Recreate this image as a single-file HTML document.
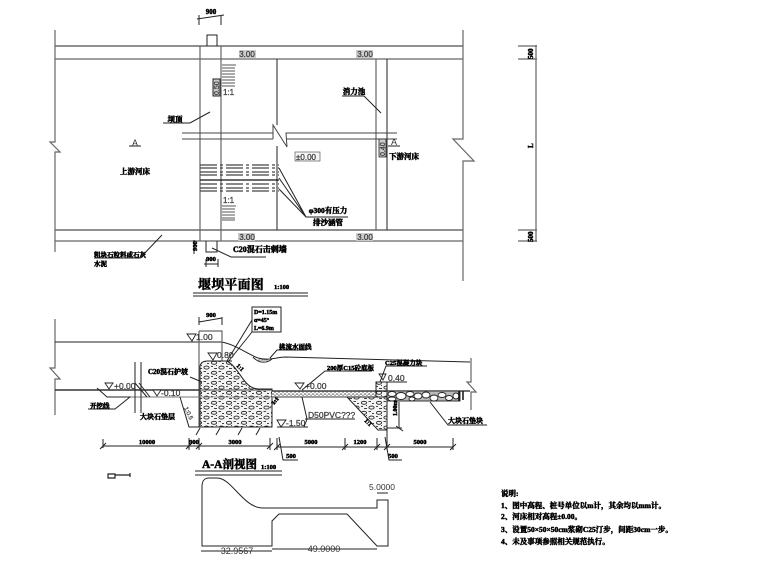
<!DOCTYPE html>
<html><head><meta charset="utf-8"><style>
html,body{margin:0;padding:0;background:#fff}
svg{display:block}
.l{fill:none;stroke:#222;stroke-width:1}
.g{fill:none;stroke:#666;stroke-width:1.2}
.s{font-family:"Liberation Serif","Noto Serif CJK SC",serif;font-weight:bold;fill:#000;stroke:#000;stroke-width:.5}
.n{font-family:"Liberation Sans",sans-serif;fill:#333}
.d{font-family:"Liberation Sans",sans-serif;fill:#444;stroke:#333;stroke-width:.25}
</style></head><body>
<svg width="760" height="567" viewBox="0 0 760 567" xmlns="http://www.w3.org/2000/svg">
<defs>
<pattern id="st" width="15" height="10" patternUnits="userSpaceOnUse">
<rect width="15" height="10" fill="#f4f4f4"/>
<ellipse cx="4" cy="2.8" rx="2.6" ry="1.5" fill="none" stroke="#222" stroke-width=".9"/>
<ellipse cx="11.5" cy="7.6" rx="2.6" ry="1.5" fill="none" stroke="#222" stroke-width=".9"/>
<path d="M8.5 1.5h2.5M12 3.5h2M1 6.5h2M4 8.5h3M6 5.5h1" stroke="#444" stroke-width=".9"/>
</pattern>
<pattern id="dt" width="4" height="3" patternUnits="userSpaceOnUse">
<rect width="4" height="3" fill="#fff"/><circle cx="1" cy="1" r=".8" fill="#444"/><circle cx="3" cy="2.2" r=".7" fill="#666"/>
</pattern>
</defs>

<!-- PLAN -->
<path class="l" d="M55 46H463"/>
<path class="g" d="M55 59H463M55 241H463"/>
<path class="l" d="M55 230H463"/>
<path class="g" d="M55 30V142H50L60 152H55V252"/>
<path class="g" d="M463 30V139H453L474 161H463V281"/>
<path class="g" d="M200 46V241M221 46V241M376 59V230"/>
<path class="l" d="M277 59V125M277 146V230M387 59V230"/>
<path class="l" d="M207 46V35H217V46M206 241V252H217V241"/>
<path fill="none" stroke="#444" d="M182 133H273M182 139H273M273 139V125L287 147L286 133H397M286 139H397" />
<!-- top dim -->
<path class="l" d="M199 25V15M221 25V15M197 19L224 15"/>
<text class="s" x="211" y="14" font-size="7" text-anchor="middle">900</text>
<!-- stairs -->
<path stroke="#555" stroke-width="1" fill="none" d="M222 65H236M222 68H235M222 71H235M222 74H235M222 77H235M222 80H235M222 83H235M222 86H235"/>
<path stroke="#555" stroke-width="1" fill="none" d="M222 206H236M222 209H235M222 212H235M222 215H235M222 218H235M222 220H235"/>
<text class="d" x="223" y="95" font-size="8">1:1</text>
<text class="d" x="223" y="203" font-size="8">1:1</text>
<!-- pipes -->
<g fill="none" stroke="#444" stroke-width="1.2">
<path d="M200 165H279M200 168H279M200 172H279M200 175H279" stroke-dasharray="17 3 3 3"/>
<path d="M200 180H279" stroke="#111"/>
<path d="M200 184H279M200 188H279M200 191H279" stroke-dasharray="17 3 3 3"/>
</g>
<path class="l" d="M279 168L306 217M279 178L306 217M279 189L306 217H348"/>
<text class="s" x="328" y="213" font-size="7.5" text-anchor="middle">φ300有压力</text>
<text class="s" x="328" y="225" font-size="7.5" text-anchor="middle">排沙涵管</text>
<!-- labels -->
<g text-anchor="middle">
<rect x="239" y="50" width="17" height="8" fill="#ccc"/><rect x="356" y="50" width="17" height="8" fill="#ccc"/>
<rect x="238" y="233" width="17" height="8" fill="#ccc"/><rect x="356" y="233" width="17" height="8" fill="#ccc"/>
<text class="d" font-size="8" x="247" y="57">3.00</text><text class="d" font-size="8" x="365" y="57">3.00</text>
<text class="d" font-size="8" x="247" y="240">3.00</text><text class="d" font-size="8" x="365" y="240">3.00</text>
</g>
<rect x="295" y="152" width="25" height="9" fill="#f4f4f4" stroke="#444" stroke-width=".6"/>
<text class="d" x="296" y="160" font-size="8">±0.00</text>
<rect x="213" y="79" width="7" height="17" fill="#ccc" stroke="#222"/>
<text class="d" transform="translate(219,95) rotate(-90)" font-size="7">0.50</text>
<rect x="379" y="139" width="7" height="18" fill="#ccc" stroke="#222" stroke-width=".8"/>
<text class="d" transform="translate(385,156) rotate(-90)" font-size="7">0.40</text>
<!-- section markers -->
<text class="n" x="135" y="146" font-size="9" text-anchor="middle">A</text>
<path class="l" d="M129 146H141"/>
<text class="n" x="394" y="145" font-size="9" text-anchor="middle">A</text>
<path class="l" d="M388 146H400"/>
<text class="s" x="135" y="174" font-size="7.5" text-anchor="middle">上游河床</text>
<text class="s" x="404" y="159" font-size="7.5" text-anchor="middle">下游河床</text>
<text class="s" x="175" y="122" font-size="7.5" text-anchor="middle">坝顶</text>
<path class="l" d="M163 123H190L210 112"/>
<text class="s" x="354" y="94" font-size="7.5" text-anchor="middle">消力池</text>
<path class="l" d="M342 96H364L381 113"/>
<text class="s" x="94" y="257" font-size="6.5">粗块石粒料或石灰</text>
<text class="s" x="94" y="266" font-size="6.5">水泥</text>
<path class="l" d="M162 235L140 258H94"/>
<text class="s" x="233" y="252" font-size="8">C20混石击刺墙</text>
<path class="l" d="M212 248L231 257H266"/>
<path class="l" d="M204 264H218M206 259V267M218 259V267"/>
<text class="s" x="211" y="261" font-size="6.5" text-anchor="middle">900</text>
<path class="l" d="M194 240V254"/>
<text class="s" transform="translate(197,251) rotate(-90)" font-size="6.5">900</text>
<!-- right dim -->
<path class="g" d="M518 46H537M518 59H537M518 230H537M518 241H537M536 45V242"/>
<text class="s" transform="translate(533,59) rotate(-90)" font-size="7">500</text>
<text class="s" transform="translate(533,242) rotate(-90)" font-size="7">500</text>
<text class="s" transform="translate(533,148) rotate(-90)" font-size="7">L</text>
<!-- title -->
<text class="s" x="198" y="289" font-size="13" letter-spacing=".2">堰坝平面图</text>
<text class="s" x="274" y="289" font-size="6.5">1:100</text>
<path stroke="#222" fill="none" d="M193 293H308M193 296H308"/>

<!-- SECTION -->
<path class="g" d="M55 319V368H50L60 379H55V415"/>
<path class="l" d="M55 342H221C235 344 247 354 258 358C270 361 278 357 285 357L470 362"/>
<path class="l" d="M253 357C258 363 266 364 272 359"/>
<path d="M258 360H268M260 362H266" stroke="#555" stroke-width=".8"/>
<path class="g" d="M471 358V382H467L476 392H471V410"/>
<path class="g" d="M199 331H222V361M199 331V427"/>
<path class="l" d="M199 322L222 318M199 317V325M222 317V325"/>
<text class="s" x="211" y="317" font-size="6.5" text-anchor="middle">900</text>
<rect x="252" y="307" width="29" height="25" fill="#fff" stroke="#222"/>
<text class="s" x="254" y="314" font-size="6">D=1.15m</text>
<text class="s" x="254" y="322" font-size="6">α=45°</text>
<text class="s" x="254" y="330" font-size="6">L=6.9m</text>
<path class="l" d="M252 320L227 361M252 332L228 362"/>
<!-- body -->
<path d="M200 427V366C201 362 204 361 207 361H227C240 368 243 388 258 389L272 389V427Z" fill="url(#st)" stroke="#222" stroke-width="1"/>
<rect x="272" y="391" width="104" height="6" fill="url(#dt)"/>
<path d="M347 397L378 430H387V397Z" fill="url(#st)" stroke="#222"/>
<path d="M376 382H387V397H376Z" fill="url(#st)" stroke="#222"/>
<path d="M272 391H470" stroke="#222" stroke-width="1.3"/>
<path class="g" d="M272 397H347M270 408L278 397"/>
<path d="M55 390H199" stroke="#333" stroke-width="1.6"/>
<path d="M199 390H272" stroke="#444" stroke-width="1"/>
<path d="M107 397H199" stroke="#777" stroke-width="1"/>
<path d="M199 397H272" stroke="#777" stroke-width=".8"/>
<!-- riprap -->
<g fill="#fff" stroke="#222" stroke-width=".9">
<rect x="387" y="391" width="73" height="10" fill="#bbb"/>
<ellipse cx="392" cy="394" rx="4" ry="2.5"/><ellipse cx="392" cy="399" rx="4" ry="2"/><ellipse cx="401" cy="396" rx="5" ry="3.5"/><ellipse cx="410" cy="394" rx="4" ry="2.5"/><ellipse cx="412" cy="399" rx="3" ry="2"/><ellipse cx="418" cy="396" rx="4" ry="3"/><ellipse cx="426" cy="395" rx="4" ry="3"/><ellipse cx="434" cy="398" rx="4" ry="3"/><ellipse cx="442" cy="395" rx="4" ry="2.5"/><ellipse cx="449" cy="398" rx="3.5" ry="2.5"/><ellipse cx="456" cy="396" rx="3" ry="3"/>
</g>
<path d="M459 391V401M463 391V400" stroke="#111" stroke-width="1.5"/>
<path class="l" d="M387 382V447M387 428H402M399 402V428M396 426L403 431"/>
<text class="s" transform="translate(397,416) rotate(-90)" font-size="6">1.00m</text>
<path class="l" d="M97 388L107 397H130L115 409H88"/>
<path class="l" d="M135 362V413M141 362V413M135 383L147 397M139 383L150 397"/>
<path class="l" d="M180 397L189 427H200"/>
<text class="d" transform="translate(184,408) rotate(65)" font-size="6">1:0.5</text>
<text class="s" x="90" y="408" font-size="6.5">开挖线</text>
<text class="s" x="140" y="419" font-size="7">大块石垫层</text>
<text class="s" x="148" y="374" font-size="7">C20混石护坡</text>
<path class="l" d="M190 377L202 382"/>
<!-- levels -->
<g fill="#fff" stroke="#222" stroke-width=".9">
<path d="M187 334H196L192 341Z"/><path d="M208 353H217L213 360Z"/><path d="M105 383H113L109 389Z"/><path d="M153 390H161L157 396Z"/><path d="M295 383H304L300 389Z"/><path d="M379 374H386L383 380Z"/><path d="M277 420H286L281 427Z"/>
</g>
<g font-size="8.5">
<text class="d" x="196" y="340">1.00</text><text class="d" x="217" y="358">0.80</text><text class="d" x="114" y="389">+0.00</text><text class="d" x="161" y="396">-0.10</text><text class="d" x="305" y="389">+0.00</text><text class="d" x="388" y="381">0.40</text><text class="d" x="286" y="426">-1.50</text><text class="d" x="308" y="418">D50PVC???</text>
</g>
<path class="l" d="M208 361H232M380 382H407M277 427H308M305 419H355M302 397L307 419L304 427"/>
<text class="s" transform="translate(236,366) rotate(45)" font-size="6">1:1</text>
<text class="s" transform="translate(274,405) rotate(-50)" font-size="6">1:1</text>
<text class="s" transform="translate(364,421) rotate(45)" font-size="6">1:1</text>
<!-- leaders -->
<path class="l" d="M270 358L277 350H307M302 390L325 371H372M380 382L386 366H427M430 402L448 425H487"/>
<text class="s" x="279" y="349" font-size="6.5">挑流水面线</text>
<text class="s" x="327" y="370" font-size="6.5">200厚C15砼底板</text>
<text class="s" x="385" y="365" font-size="6.5">C25混凝力块</text>
<text class="s" x="448" y="423" font-size="7">大块石垫块</text>
<!-- dims -->
<path class="l" d="M103 446H270M277 447H453"/>
<path class="l" d="M103 439V448M100 449L106 443M189 438V450M186 449L192 443M199 438V450M196 449L202 443M270 438V450M267 449L273 443M277 438V450M274 450L280 444M345 438V450M342 450L348 444M377 438V450M374 450L380 444M387 438V450M384 450L390 444M453 438V450M450 450L456 444"/>
<path class="l" d="M200 428L196 435M220 428L216 435M242 428L238 435M260 428L256 435"/>
<g font-size="6.5" text-anchor="middle">
<text class="s" x="147" y="444">10000</text><text class="s" x="194" y="444">900</text><text class="s" x="235" y="444">3000</text><text class="s" x="311" y="444">5000</text><text class="s" x="360" y="444">1200</text><text class="s" x="420" y="444">5000</text><text class="s" x="291" y="458">500</text><text class="s" x="393" y="458">500</text>
</g>
<path class="l" d="M279 437L283 460H298M385 437L389 460H402"/>
<!-- title 2 -->
<text class="s" x="202" y="468" font-size="11.5">A-A剖视图</text>
<text class="s" x="261" y="469" font-size="6.5">1:100</text>
<path stroke="#222" fill="none" d="M195 471H282M195 475H282"/>
<path d="M108 474H115V478H108ZM115 475H130M130 473V477" fill="none" stroke="#222" stroke-width="1.2"/>
<!-- lower outline -->
<path class="l" d="M202 546V487C202 481 204 478 209 478H217C232 478 243 508 263 508H377V500H388V546H377L347 514H279L272 521V546Z" stroke-width="1.1"/>
<text class="n" x="382" y="490" font-size="8.5" text-anchor="middle">5.0000</text>
<path class="l" d="M377 493H388"/>
<path class="l" d="M201 551H272M272 549H377"/>
<text class="n" x="237" y="554" font-size="9" text-anchor="middle">32.9567</text>
<text class="n" x="324" y="552" font-size="9" text-anchor="middle">49.0000</text>
<!-- notes -->
<g font-size="7.5">
<text class="s" x="501" y="496">说明:</text>
<text class="s" x="501" y="508">1、图中高程、桩号单位以m计，其余均以mm计。</text>
<text class="s" x="501" y="519">2、河床相对高程±0.00。</text>
<text class="s" x="501" y="532">3、设置50×50×50cm浆砌C25汀步，间距30cm一步。</text>
<text class="s" x="501" y="544">4、未及事项参照相关规范执行。</text>
</g>
</svg>
</body></html>
